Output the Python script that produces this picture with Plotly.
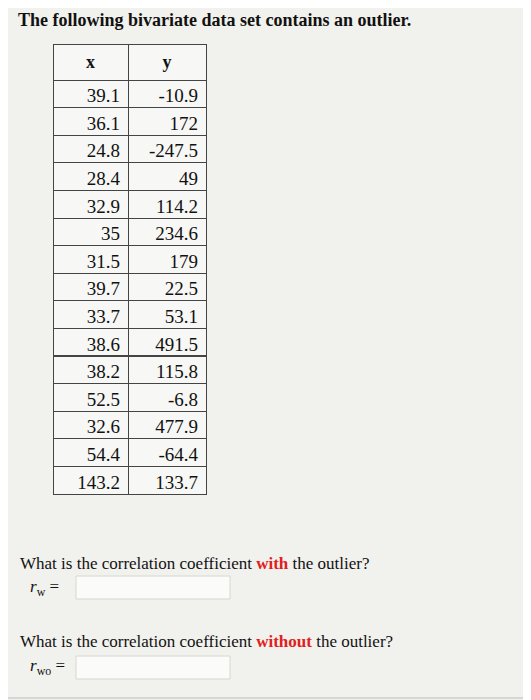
import plotly.graph_objects as go

x_vals = ["39.1", "36.1", "24.8", "28.4", "32.9", "35", "31.5", "39.7", "33.7",
          "38.6", "38.2", "52.5", "32.6", "54.4", "143.2"]
y_vals = ["-10.9", "172", "-247.5", "49", "114.2", "234.6", "179", "22.5", "53.1",
          "491.5", "115.8", "-6.8", "477.9", "-64.4", "133.7"]

W, H = 531, 700
bg = "#f1f1ee"
serif = "Liberation Serif, Times New Roman, serif"

def px(x):
    return x / W

def py(y):
    return 1 - y / H

fig = go.Figure(go.Table(
    domain=dict(x=[px(45), px(198)], y=[py(520), py(36)]),
    columnwidth=[75, 78],
    header=dict(values=["<b>x</b>", "<b>y</b>"], align="center", height=20,
                fill_color="#f7f7f5", line_color="#444",
                font=dict(family=serif, size=18, color="#111")),
    cells=dict(values=[x_vals, y_vals], align="right", height=27.6,
               fill_color="#f7f7f5", line_color="#444",
               font=dict(family=serif, size=19, color="#111")),
))

ann = [
    (8, 12, "<b>The following bivariate data set contains an outlier.</b>", 18),
    (10, 555, "What is the correlation coefficient <b><span style='color:#e02020'>with</span></b> the outlier?", 17),
    (10, 633, "What is the correlation coefficient <b><span style='color:#e02020'>without</span></b> the outlier?", 17),
    (20, 580, "<i>r</i><sub>w</sub> =", 17),
    (20, 659, "<i>r</i><sub>wo</sub> =", 17),
]
for x, y, t, s in ann:
    fig.add_annotation(x=px(x), y=py(y), xref="paper", yref="paper", text=t,
                       showarrow=False, xanchor="left", yanchor="middle",
                       font=dict(family=serif, size=s, color="#111"))

for y0, y1 in [(568, 591), (648, 671)]:
    fig.add_shape(type="rect", xref="paper", yref="paper",
                  x0=px(68), x1=px(222), y0=py(y1), y1=py(y0),
                  line=dict(color="#d8d8d0", width=1), fillcolor="#fbfbf9")
fig.add_shape(type="line", xref="paper", yref="paper", x0=0, x1=1,
              y0=py(690), y1=py(690), line=dict(color="#bbb", width=1))

fig.update_layout(width=W, height=H, margin=dict(l=0, r=0, t=0, b=0),
                  paper_bgcolor=bg, plot_bgcolor=bg)
fig.write_html("out.html")
